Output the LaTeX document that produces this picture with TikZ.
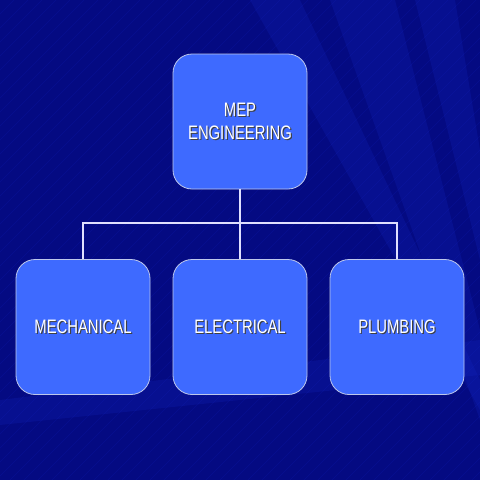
\documentclass[tikz,border=0pt]{standalone}
\usepackage{fontspec}
\setmainfont{Liberation Sans}[FakeStretch=0.76]
\usepackage{xcolor}
\usepackage{tikz}
\usetikzlibrary{positioning,calc}
\definecolor{BgNavy}{RGB}{4,10,130}
\definecolor{BgRay}{RGB}{20,40,200}
\definecolor{BoxBlue}{RGB}{62,106,255}
\definecolor{BoxEdge}{RGB}{190,200,235}
\newcommand{\shtext}[1]{\makebox[0pt][l]{\hspace{1.2pt}\raisebox{-1.2pt}{\color{black!75}#1}}#1}

\begin{document}
\begin{tikzpicture}[x=1pt,y=-1pt]
	\tikzset{
		box/.style={rectangle, rounded corners=19pt, draw=BoxEdge, line width=0.8pt,
			fill=BoxBlue, minimum width=134pt, minimum height=135pt, inner sep=0pt,
			text=white, font=\fontsize{19.5}{23}\selectfont, align=center},
		link/.style={draw=white!88!blue, line width=1.6pt},
		ray/.style={fill=BgRay, opacity=0.2}
	}
	% background
	\fill[BgNavy] (0,0) rectangle (480,480);
	\useasboundingbox (0,0) rectangle (480,480);
	\fill[ray] (330,0) -- (395,0) -- (480,330) -- (480,420) -- cycle;
	\fill[ray] (415,0) -- (455,0) -- (480,150) -- (480,260) -- cycle;
	\fill[ray] (250,0) -- (300,0) -- (480,380) -- (480,410) -- cycle;
	\fill[ray] (0,400) -- (480,340) -- (480,375) -- (0,425) -- cycle;
	\foreach \k in {0,14,...,960}
		\draw[BgRay, opacity=0.2, line width=0.5pt] (\k-480,480) -- (\k,0);
	
	% boxes
	\node[box] (mep) at (240,121.5) {\shtext{MEP}\\\shtext{ENGINEERING}};
	\node[box] (mech) at (83,327) {\shtext{MECHANICAL}};
	\node[box] (elec) at (240,327) {\shtext{ELECTRICAL}};
	\node[box] (plumb) at (397,327) {\shtext{PLUMBING}};
	
	% tree lines
	\coordinate (bus) at (240,223);
	\draw[link] (mep) -- (bus);
	\draw[link] (bus) -| (mech);
	\draw[link] (bus) -| (plumb);
	\draw[link] (bus) -- (elec);
\end{tikzpicture}
\end{document}
